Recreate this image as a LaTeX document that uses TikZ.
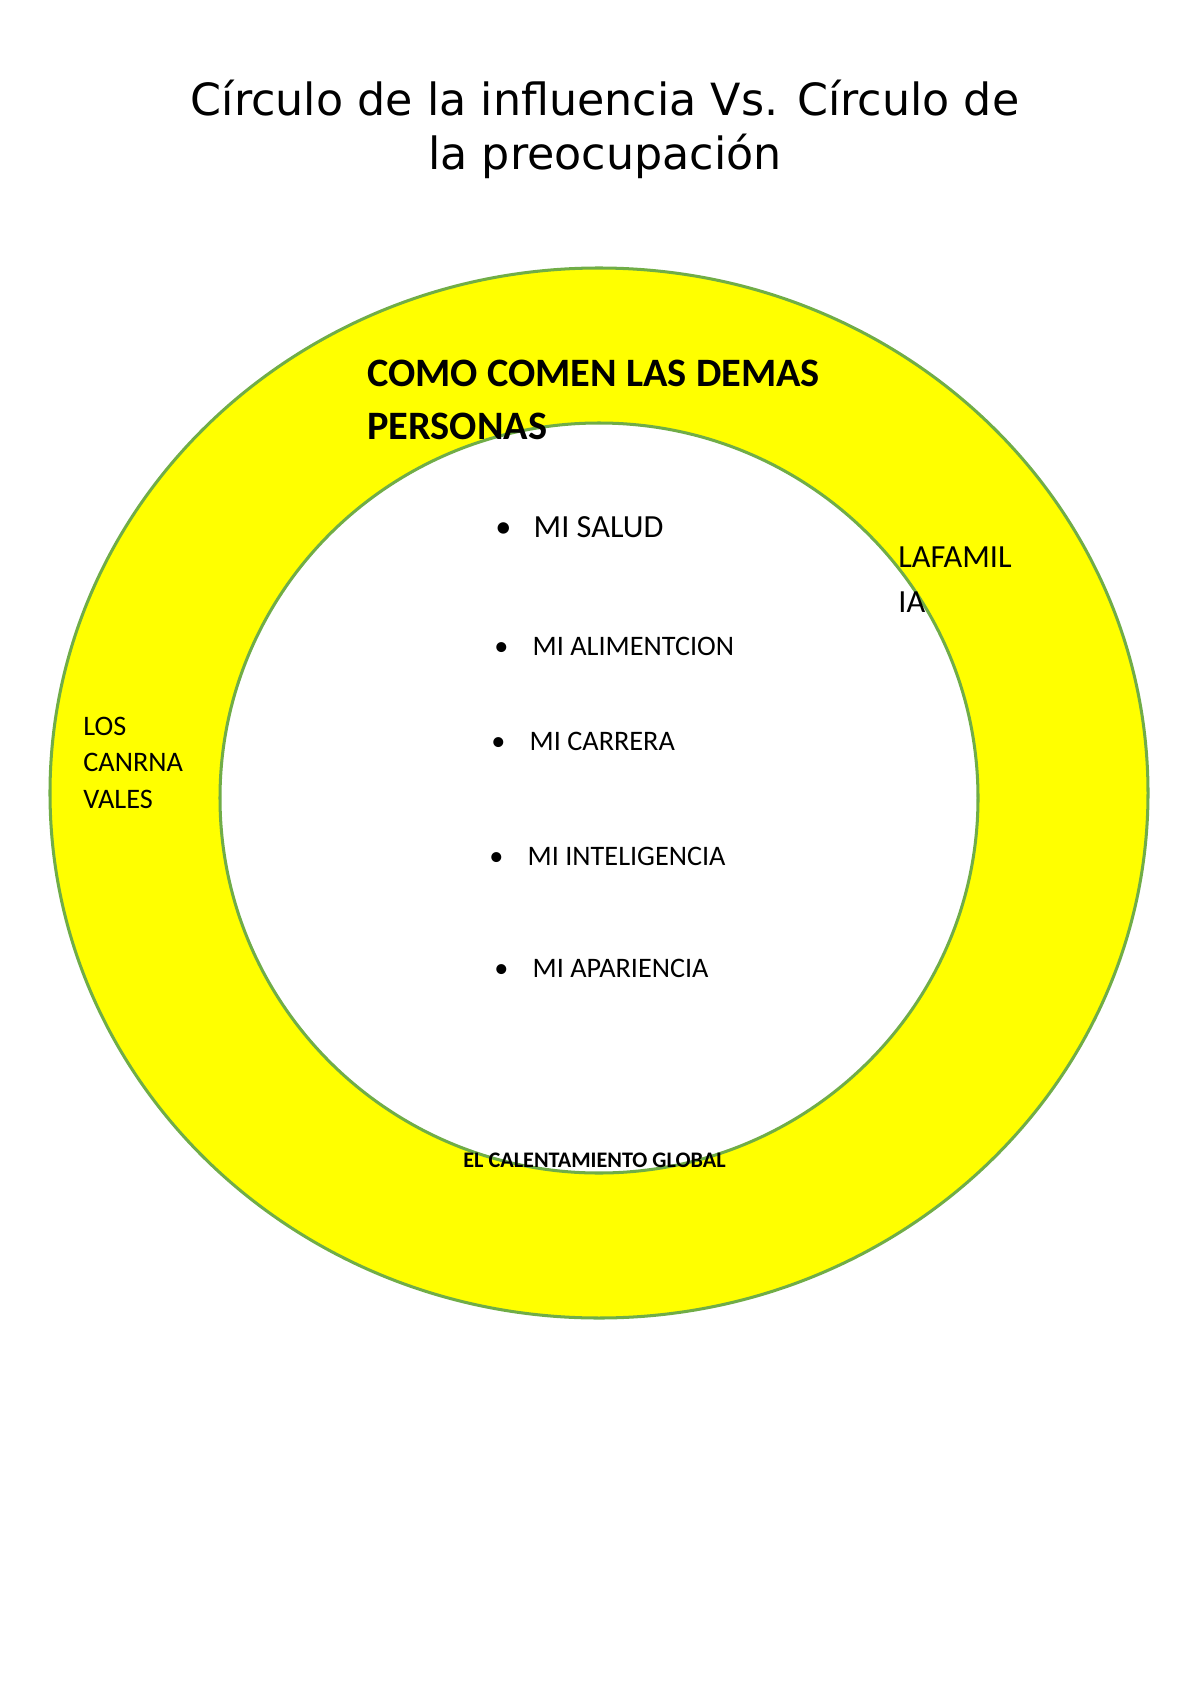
\documentclass[tikz,border=0pt]{standalone}
\usepackage{fontspec}
\setmainfont{Carlito}
\newfontfamily\titlefont{DejaVu Sans}
\definecolor{ringgreen}{HTML}{70AD47}
\definecolor{ringyellow}{HTML}{FFFF00}
\tikzset{
  ring/.style={draw=ringgreen, line width=1.5pt},
  label/.style={inner sep=0pt, anchor=base west, align=left},
  listitem/.style={label, font=\fontsize{14}{16}\selectfont},
}
\newcommand{\bulletmark}{\makebox[19pt][l]{\textbullet}}

\begin{document}
\begin{tikzpicture}[x=0.4958pt, y=-0.4958pt]
			%%%%% START %%%%%
			\useasboundingbox (0, 0) rectangle (1200, 1696);
			
			% title, base = last line
			\node[anchor=base, align=center, inner sep=0pt, font=\titlefont\fontsize{22}{27}\selectfont] (title) at (605, 170) {Círculo de la influencia Vs. Círculo de\\la preocupación};
			
			\draw[ring, fill=ringyellow] (599, 793) ellipse [x radius=549, y radius=525];
			\draw[ring, fill=white] (599, 798) ellipse [x radius=379, y radius=375];
			
			\node[label, font=\bfseries\fontsize{20}{25.8}\selectfont] (demas) at (367, 439) {COMO COMEN LAS DEMAS\\PERSONAS};
			\node[label, font=\fontsize{14}{18}\selectfont] (carnavales) at (83, 808) {LOS\\CANRNA\\VALES};
			\node[label, font=\fontsize{16}{22}\selectfont] (familia) at (898, 612) {LAFAMIL\\IA};
			\node[label, font=\bfseries\fontsize{11}{13}\selectfont] (global) at (463, 1167) {EL CALENTAMIENTO GLOBAL};
			
			\node[listitem, font=\fontsize{16}{18}\selectfont] (salud) at (495, 537) {\bulletmark MI SALUD};
			\node[listitem] (alimento) at (494, 655) {\bulletmark MI ALIMENTCION};
			\node[listitem] (carrera) at (491, 750) {\bulletmark MI CARRERA};
			\node[listitem] (inteligencia) at (489, 865) {\bulletmark MI INTELIGENCIA};
			\node[listitem] (apariencia) at (494, 977) {\bulletmark MI APARIENCIA};
			
			%%%%% END %%%%%
		\end{tikzpicture}
\end{document}
